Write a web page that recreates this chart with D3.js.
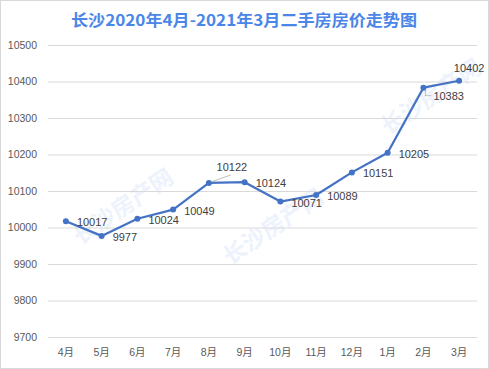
<!DOCTYPE html>
<html><head><meta charset="utf-8">
<script src="https://cdn.jsdelivr.net/npm/d3@7"></script>
<style>body{margin:0;background:#fff;}svg{display:block;}</style>
</head><body>
<svg id="c" width="489" height="369"></svg>
<script>
const months = ["4月","5月","6月","7月","8月","9月","10月","11月","12月","1月","2月","3月"];
const prices = [10017,9977,10024,10049,10122,10124,10071,10089,10151,10205,10383,10402];
const yTicks = [9700,9800,9900,10000,10100,10200,10300,10400,10500];
const titleText = "长沙2020年4月-2021年3月二手房房价走势图";
const watermarkText = "长沙房产网";
// label placement keywords (layout, not data)
const labelPlace = ["right","right","right","right","aboveLeader","right","right","right","right","right","rightLeader","above"];

const svg = d3.select("#c");
const W = 489, H = 369;
svg.append("rect").attr("x",0.5).attr("y",0.5).attr("width",W-1).attr("height",H-1)
  .attr("fill","#fff").attr("stroke","#d9d9d9");

const x = d3.scaleBand().domain(months).range([48,477]);
const y = d3.scaleLinear().domain([9700,10500]).range([337,45]);

// watermarks
const wm = svg.append("g");
[[122,205],[272,225],[430,95]].forEach(([cx,cy])=>{
  wm.append("text").attr("transform",`translate(${cx},${cy}) rotate(-34)`)
    .attr("text-anchor","middle").attr("dominant-baseline","central")
    .attr("font-family","Noto Sans CJK SC").attr("font-weight","bold").attr("font-size",23)
    .attr("fill","#e8effc").attr("fill-opacity",0.8).text(watermarkText);
});

// grid
const yAxis = d3.axisLeft(y).tickValues(yTicks).tickFormat(d3.format("d")).tickSize(-(477-48)).tickPadding(11);
const gy = svg.append("g").attr("transform","translate(48,0)").call(yAxis);
gy.select(".domain").remove();
gy.selectAll(".tick line").attr("stroke","#d9d9d9").attr("stroke-width",1);
gy.selectAll(".tick text").attr("font-family","Liberation Sans, Arial").attr("font-size",10.5).attr("fill","#595959");

const xAxis = d3.axisBottom(x).tickSize(0).tickPadding(12);
const gx = svg.append("g").attr("transform","translate(0,337)").call(xAxis);
gx.select(".domain").remove();
gx.selectAll(".tick text").attr("font-family","Liberation Sans, Noto Sans CJK SC").attr("font-size",10.5).attr("fill","#595959");

// title
svg.append("text").attr("x",244).attr("y",19).attr("text-anchor","middle").attr("dominant-baseline","central")
  .attr("font-family","Noto Sans CJK SC").attr("font-weight","bold").attr("font-size",16)
  .attr("fill","#4a86e8").attr("textLength",346).attr("lengthAdjust","spacingAndGlyphs").text(titleText);

const px = (d,i)=>x(months[i])+x.bandwidth()/2;
const line = d3.line().x((d,i)=>px(d,i)).y(d=>y(d));
svg.append("path").datum(prices).attr("d",line).attr("fill","none")
  .attr("stroke","#4472c4").attr("stroke-width",2.25).attr("stroke-linejoin","round");
svg.selectAll("circle.pt").data(prices).join("circle").attr("class","pt")
  .attr("cx",(d,i)=>px(d,i)).attr("cy",d=>y(d)).attr("r",3).attr("fill","#4472c4");

// labels
const lg = svg.append("g").attr("font-family","Liberation Sans, Arial").attr("font-size",11).attr("fill","#404040");
prices.forEach((v,i)=>{
  const cx = px(v,i), cy = y(v), p = labelPlace[i];
  if(p==="right"){
    lg.append("text").attr("x",cx+11).attr("y",cy+1).attr("dominant-baseline","central").text(v);
  } else if(p==="aboveLeader"){
    svg.append("line").attr("x1",cx+2).attr("y1",cy-1).attr("x2",cx+22).attr("y2",cy-8)
      .attr("stroke","#a6a6a6").attr("stroke-width",0.75);
    lg.append("text").attr("x",cx+23).attr("y",cy-16).attr("text-anchor","middle").attr("dominant-baseline","central").text(v);
  } else if(p==="rightLeader"){
    svg.append("path").attr("d",`M${cx+2},${cy+2}V${cy+8}H${cx+8}`).attr("fill","none")
      .attr("stroke","#a6a6a6").attr("stroke-width",0.75);
    lg.append("text").attr("x",cx+10).attr("y",cy+8).attr("dominant-baseline","central").text(v);
  } else {
    lg.append("text").attr("x",cx+10).attr("y",cy-13).attr("text-anchor","middle").attr("dominant-baseline","central").text(v);
  }
});
</script>
</body></html>
